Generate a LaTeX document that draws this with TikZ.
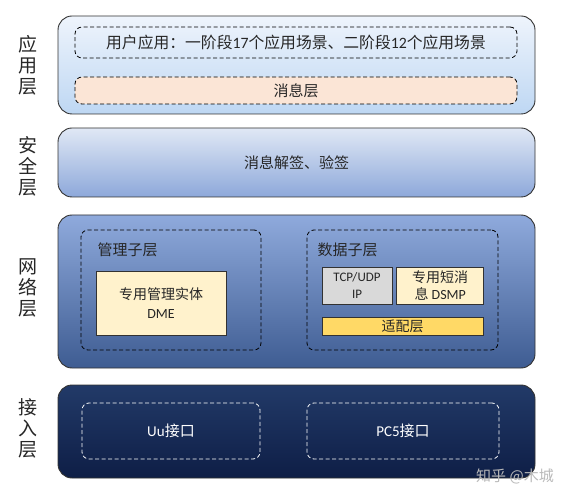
\documentclass[tikz,border=0pt]{standalone}
\usepackage{fontspec}
\setmainfont{Noto Sans CJK SC}
\newfontfamily\lat{Carlito}
\usepackage{xcolor}
\usetikzlibrary{positioning}
\definecolor{appTop}{RGB}{238,244,252}
\definecolor{appBot}{RGB}{190,215,243}
\definecolor{secTop}{RGB}{224,232,245}
\definecolor{secBot}{RGB}{141,168,218}
\definecolor{netTop}{RGB}{143,170,220}
\definecolor{netBot}{RGB}{62,92,146}
\definecolor{accTop}{RGB}{34,58,104}
\definecolor{accBot}{RGB}{14,30,70}
\definecolor{edgeC}{RGB}{50,50,50}
\definecolor{txtC}{RGB}{38,38,38}
\definecolor{peach}{RGB}{251,229,214}
\definecolor{cream}{RGB}{255,242,204}
\definecolor{greyC}{RGB}{217,217,217}
\definecolor{gold}{RGB}{255,217,102}

\begin{document}
\begin{tikzpicture}[x=1pt, y=-1pt,
    lyr/.style={rounded corners=14pt, draw=edgeC, line width=0.9pt, minimum width=477pt,
                inner sep=0pt},
    dbox/.style={rounded corners=7pt, draw=#1, dash pattern=on 4pt off 2.5pt,
                 line width=0.8pt, inner sep=0pt},
    blk/.style={draw=edgeC, line width=0.7pt, inner sep=0pt, align=center, text=txtC},
    side/.style={align=center, text=txtC, font=\fontsize{19}{21}\selectfont},
    lbl/.style={text=txtC, font=\fontsize{15}{18}\selectfont}
  ]
  \useasboundingbox (0,0) rectangle (575,502);
  % layers
  \node[lyr, top color=appTop, bottom color=appBot, minimum height=98pt] (app) at (296.5,65) {};
  \node[lyr, top color=secTop, bottom color=secBot, minimum height=69pt, lbl] (sec) at (296.5,162.5)
       {消息解签、验签};
  \node[lyr, top color=netTop, bottom color=netBot, minimum height=153pt] (net) at (296.5,291.5) {};
  \node[lyr, top color=accTop, bottom color=accBot, minimum height=93pt] (acc) at (296.5,431.5) {};
  % side labels
  \node[side] (appL) at (28,65) {应\\用\\层};
  \node[side] (secL) at (28,166) {安\\全\\层};
  \node[side] (netL) at (28,288) {网\\络\\层};
  \node[side] (accL) at (28,428) {接\\入\\层};
  % application layer
  \node[dbox=black, minimum width=442pt, minimum height=31pt, text=txtC,
        font=\fontsize{15.8}{18}\selectfont] (user) at (296,42.5)
       {用户应用：一阶段{\lat 17}个应用场景、二阶段{\lat 12}个应用场景};
  \node[dbox=black, fill=peach, minimum width=442pt, minimum height=27pt, lbl] (msg) at (296,90.5)
       {消息层};
  % network layer
  \node[dbox=black, minimum width=180pt, minimum height=120pt] (mgmt) at (171,290) {};
  \node[dbox=black, minimum width=191pt, minimum height=120pt] (data) at (402.5,290) {};
  \node[lbl, anchor=west] (mgmtL) at (94,250) {管理子层};
  \node[lbl, anchor=west] (dataL) at (314,250) {数据子层};
  \node[blk, fill=cream, minimum width=130pt, minimum height=64pt,
        font=\fontsize{14}{19}\selectfont] (dme) at (161,303) {专用管理实体\\{\lat DME}};
  \node[blk, fill=greyC, minimum width=70pt, minimum height=37pt,
        font=\lat\fontsize{13}{17}\selectfont] (tcp) at (357,285.5) {TCP/UDP\\IP};
  \node[blk, fill=cream, minimum width=87pt, minimum height=37pt, right=4pt of tcp,
        font=\fontsize{14}{17}\selectfont] (dsmp) {专用短消\\息 {\lat DSMP}};
  \node[blk, fill=gold, minimum width=161pt, minimum height=18pt,
        font=\fontsize{14}{16}\selectfont] (adapt) at (402.5,326) {适配层};
  % access layer
  \node[dbox=white, minimum width=178pt, minimum height=56pt, text=white,
        font=\fontsize{15}{18}\selectfont] (uu) at (171,431) {{\lat Uu}接口};
  \node[dbox=white, minimum width=192pt, minimum height=56pt, text=white,
        font=\fontsize{15}{18}\selectfont] (pc5) at (403,431) {{\lat PC5}接口};
  \node[text=gray!55, font=\fontsize{15}{18}\selectfont] (mark) at (515,476) {知乎 @木城};
\end{tikzpicture}
\end{document}
